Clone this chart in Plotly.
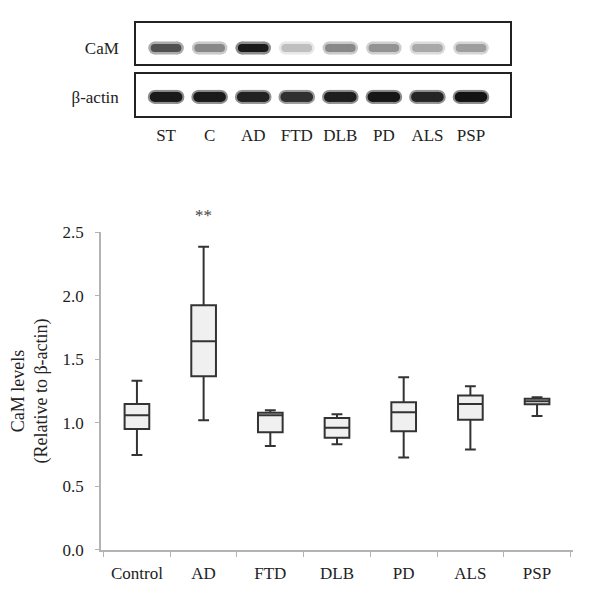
#!/usr/bin/env python3
# cam_boxplot.py

import plotly.graph_objects as go

# --- data: box plot summary ---
groups = ["Control", "AD", "FTD", "DLB", "PD", "ALS", "PSP"]
upper_whisker = [1.33, 2.385, 1.098, 1.067, 1.358, 1.287, 1.20]
q3_values = [1.148, 1.925, 1.080, 1.038, 1.161, 1.214, 1.19]
median_values = [1.059, 1.642, 1.060, 0.962, 1.083, 1.148, 1.17]
q1_values = [0.951, 1.366, 0.925, 0.883, 0.933, 1.025, 1.145]
lower_whisker = [0.746, 1.020, 0.817, 0.831, 0.728, 0.791, 1.053]
y_max = 2.5
sig_group = "AD"
sig_label = "**"
sig_level = 2.72

# --- data: western blot lanes (relative band darkness, 0..1) ---
lanes = ["ST", "C", "AD", "FTD", "DLB", "PD", "ALS", "PSP"]
cam_band = [0.70, 0.45, 0.95, 0.20, 0.45, 0.40, 0.30, 0.35]
actin_band = [0.95, 0.95, 0.92, 0.85, 0.93, 0.97, 0.90, 0.98]

SERIF = "Liberation Serif, Times New Roman, serif"
TEXT = "#222222"
AXIS_GRAY = "#b3b3b3"


def gray(level):
    g = int(round(level))
    return f"rgb({g},{g},{g})"


def band_traces(intensities, xa, ya, core_w, halo_w):
    traces = []
    for i, a in enumerate(intensities):
        xs = [i - 0.26, i + 0.26]
        halo = gray(255 - 120 * a)
        core = gray(235 - 220 * a)
        # soft halo, then dark core (opaque so ends don't stack up)
        traces.append(go.Scatter(
            x=xs, y=[0, 0], xaxis=xa, yaxis=ya, mode="lines+markers",
            line=dict(color=halo, width=halo_w),
            marker=dict(size=halo_w, color=halo),
            hoverinfo="skip", showlegend=False))
        traces.append(go.Scatter(
            x=xs, y=[0, 0], xaxis=xa, yaxis=ya, mode="lines+markers",
            line=dict(color=core, width=core_w),
            marker=dict(size=core_w, color=core),
            hovertext=lanes[i], hoverinfo="text", showlegend=False))
    return traces


def main():
    fig = go.Figure()

    # --- box plot ---
    fig.add_trace(go.Box(
        x=groups,
        q1=q1_values,
        median=median_values,
        q3=q3_values,
        lowerfence=lower_whisker,
        upperfence=upper_whisker,
        width=0.37,
        whiskerwidth=0.44,
        fillcolor="#f0f0f0",
        line=dict(color="#333333", width=2),
        boxpoints=False,
        showlegend=False,
    ))

    # --- blot panels ---
    for t in band_traces(cam_band, "x2", "y2", 8, 13):
        fig.add_trace(t)
    for t in band_traces(actin_band, "x3", "y3", 10, 14):
        fig.add_trace(t)

    # significance mark sits above the axis range, so place it in domain units
    fig.add_annotation(
        x=sig_group, y=sig_level / y_max, xref="x", yref="y domain", text=sig_label,
        showarrow=False, font=dict(family=SERIF, size=17, color="#444444"))

    blot_x = dict(domain=[0.0742, 0.8665], range=[-0.69, 7.895],
                  showline=True, mirror=True, linecolor="#222222", linewidth=1.5,
                  showgrid=False, zeroline=False, fixedrange=True, automargin=False)
    blot_y = dict(showline=True, mirror=True, linecolor="#222222", linewidth=1.5,
                  showgrid=False, zeroline=False, ticks="", tickvals=[0],
                  ticklabelstandoff=12, fixedrange=True, automargin=False,
                  tickfont=dict(family=SERIF, size=17, color=TEXT))

    # page body adds an 8px offset, so the figure is 8px smaller each way
    fig.update_layout(
        width=592, height=590,
        margin=dict(l=93, r=27, t=15, b=48),
        paper_bgcolor="white", plot_bgcolor="white",
        font=dict(family=SERIF, size=17, color=TEXT),
        xaxis=dict(
            domain=[0, 1], showline=True, linecolor=AXIS_GRAY, linewidth=1.5,
            ticks="outside", ticklen=5, tickcolor=AXIS_GRAY, tickson="boundaries",
            showgrid=False, automargin=False, ticklabelstandoff=7,
            tickfont=dict(family=SERIF, size=17, color=TEXT),
        ),
        yaxis=dict(
            domain=[0, 0.6034], range=[0, y_max], tickvals=[0, 0.5, 1.0, 1.5, 2.0, 2.5],
            tickformat=".1f", showline=True, linecolor=AXIS_GRAY, linewidth=1.5,
            ticks="outside", ticklen=4, tickcolor=AXIS_GRAY, showgrid=False,
            zeroline=False, automargin=False, ticklabelstandoff=8,
            tickfont=dict(family=SERIF, size=17, color=TEXT),
            title=dict(text="CaM levels<br>(Relative to β-actin)",
                       font=dict(family=SERIF, size=18, color=TEXT), standoff=16),
        ),
        xaxis2=dict(blot_x, anchor="y2", showticklabels=False, ticks=""),
        yaxis2=dict(blot_y, domain=[0.9222, 1.0], anchor="x2",
                    range=[-0.8, 1.25], ticktext=["CaM"]),
        xaxis3=dict(blot_x, anchor="y3", ticks="", tickvals=list(range(len(lanes))),
                    ticktext=lanes, ticklabelstandoff=3,
                    tickfont=dict(family=SERIF, size=17, color=TEXT)),
        yaxis3=dict(blot_y, domain=[0.8235, 0.9032], anchor="x3",
                    range=[-1.0, 1.2], ticktext=["β-actin"]),
    )

    fig.write_html("out.html")


if __name__ == "__main__":
    main()
